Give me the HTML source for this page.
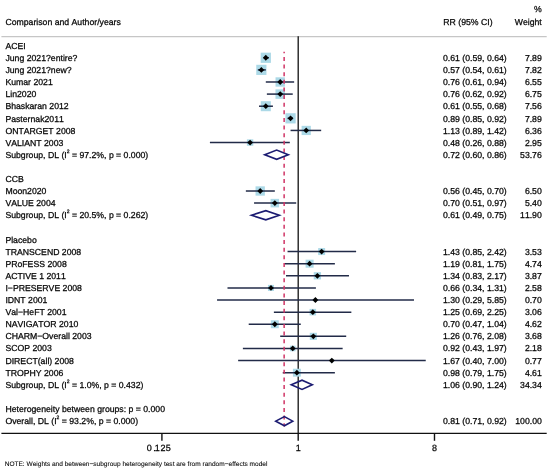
<!DOCTYPE html>
<html><head><meta charset="utf-8"><style>
html,body{margin:0;padding:0;background:#fff;}
body{width:550px;height:473px;overflow:hidden;position:relative;}
svg{position:absolute;left:0;top:0;will-change:transform;}
text{text-rendering:geometricPrecision;font-kerning:none;stroke:#080808;stroke-width:0.26px;font-family:"Liberation Sans",sans-serif;font-size:8.7px;fill:#080808;}
.sup{font-size:5px;}
.note{font-size:6.55px;stroke-width:0.08px;}
.tk{font-size:9px;}
</style></head><body>
<svg width="550" height="473" viewBox="0 0 550 473">

<line x1="1.4" y1="36.6" x2="546.7" y2="36.6" stroke="#c6c6c6" stroke-width="1.2"/>
<text x="5.4" y="24.7">Comparison and Author/years</text>
<text x="443.3" y="24.5">RR (95% CI)</text>
<text x="541.8" y="24.5" text-anchor="end">Weight</text>
<text x="541.8" y="12.0" text-anchor="end">%</text>
<line x1="298.2" y1="36.2" x2="298.2" y2="433.4" stroke="#111" stroke-width="1.3"/>
<line x1="1.4" y1="433.4" x2="546.7" y2="433.4" stroke="#111" stroke-width="1.4"/>
<line x1="161.91" y1="433.4" x2="161.91" y2="440.8" stroke="#111" stroke-width="1.4"/>
<text class="tk" x="146.7 153.3 154.8 160.4 165.7" y="450.8">0.125</text>
<line x1="298.20" y1="433.4" x2="298.20" y2="440.8" stroke="#111" stroke-width="1.4"/>
<text class="tk" x="298.20" y="450.8" text-anchor="middle">1</text>
<line x1="434.49" y1="433.4" x2="434.49" y2="440.8" stroke="#111" stroke-width="1.4"/>
<text class="tk" x="434.49" y="450.8" text-anchor="middle">8</text>
<text class="note" x="4.7" y="465.9">NOTE: Weights and between−subgroup heterogeneity test are from random−effects model</text>
<text x="5.4" y="48.90">ACEI</text>
<text x="5.4" y="61.00">Jung 2021?entire?</text>
<rect x="260.69" y="52.65" width="10.23" height="10.23" fill="#acd9e7"/>
<line x1="263.62" y1="57.76" x2="268.95" y2="57.76" stroke="#222b48" stroke-width="1.5"/>
<polygon points="262.90,57.76 265.80,54.86 268.70,57.76 265.80,60.66" fill="#000"/>
<text x="443.0" y="61.00">0.61 (0.59, 0.64)</text>
<text x="541.8" y="61.00" text-anchor="end">7.89</text>
<text x="5.4" y="73.10">Jung 2021?new?</text>
<rect x="256.26" y="64.78" width="10.19" height="10.19" fill="#acd9e7"/>
<line x1="257.81" y1="69.88" x2="265.80" y2="69.88" stroke="#222b48" stroke-width="1.5"/>
<polygon points="258.46,69.88 261.36,66.98 264.26,69.88 261.36,72.78" fill="#000"/>
<text x="443.0" y="73.10">0.57 (0.54, 0.61)</text>
<text x="541.8" y="73.10" text-anchor="end">7.82</text>
<text x="5.4" y="85.20">Kumar 2021</text>
<rect x="275.53" y="77.31" width="9.36" height="9.36" fill="#acd9e7"/>
<line x1="265.80" y1="81.99" x2="294.14" y2="81.99" stroke="#222b48" stroke-width="1.5"/>
<polygon points="277.31,81.99 280.21,79.09 283.11,81.99 280.21,84.89" fill="#000"/>
<text x="443.0" y="85.20">0.76 (0.61, 0.94)</text>
<text x="541.8" y="85.20" text-anchor="end">6.55</text>
<text x="5.4" y="97.30">Lin2020</text>
<rect x="275.47" y="89.36" width="9.49" height="9.49" fill="#acd9e7"/>
<line x1="266.87" y1="94.10" x2="292.74" y2="94.10" stroke="#222b48" stroke-width="1.5"/>
<polygon points="277.31,94.10 280.21,91.20 283.11,94.10 280.21,97.00" fill="#000"/>
<text x="443.0" y="97.30">0.76 (0.62, 0.92)</text>
<text x="541.8" y="97.30" text-anchor="end">6.75</text>
<text x="5.4" y="109.40">Bhaskaran 2012</text>
<rect x="260.79" y="101.20" width="10.02" height="10.02" fill="#acd9e7"/>
<line x1="259.02" y1="106.22" x2="272.92" y2="106.22" stroke="#222b48" stroke-width="1.5"/>
<polygon points="262.90,106.22 265.80,103.31 268.70,106.22 265.80,109.12" fill="#000"/>
<text x="443.0" y="109.40">0.61 (0.55, 0.68)</text>
<text x="541.8" y="109.40" text-anchor="end">7.56</text>
<text x="5.4" y="121.50">Pasternak2011</text>
<rect x="285.45" y="113.21" width="10.23" height="10.23" fill="#acd9e7"/>
<line x1="287.55" y1="118.33" x2="292.74" y2="118.33" stroke="#222b48" stroke-width="1.5"/>
<polygon points="287.66,118.33 290.56,115.43 293.46,118.33 290.56,121.23" fill="#000"/>
<text x="443.0" y="121.50">0.89 (0.85, 0.92)</text>
<text x="541.8" y="121.50" text-anchor="end">7.89</text>
<text x="5.4" y="133.60">ONTARGET 2008</text>
<rect x="301.60" y="125.83" width="9.23" height="9.23" fill="#acd9e7"/>
<line x1="290.56" y1="130.44" x2="321.18" y2="130.44" stroke="#222b48" stroke-width="1.5"/>
<polygon points="303.31,130.44 306.21,127.54 309.11,130.44 306.21,133.34" fill="#000"/>
<text x="443.0" y="133.60">1.13 (0.89, 1.42)</text>
<text x="541.8" y="133.60" text-anchor="end">6.36</text>
<text x="5.4" y="145.70">VALIANT 2003</text>
<rect x="246.89" y="139.35" width="6.41" height="6.41" fill="#acd9e7"/>
<line x1="209.91" y1="142.55" x2="289.82" y2="142.55" stroke="#222b48" stroke-width="1.5"/>
<polygon points="247.19,142.55 250.09,139.65 252.99,142.55 250.09,145.45" fill="#000"/>
<text x="443.0" y="145.70">0.48 (0.26, 0.88)</text>
<text x="541.8" y="145.70" text-anchor="end">2.95</text>
<text x="5.4" y="157.80">Subgroup, DL (I<tspan class='sup' dy='-5'>2</tspan><tspan dy='5'> = 97.2%, p = 0.000)</tspan></text>
<text x="443.0" y="157.80">0.72 (0.60, 0.86)</text>
<text x="541.8" y="157.80" text-anchor="end">53.76</text>
<text x="5.4" y="182.00">CCB</text>
<text x="5.4" y="194.10">Moon2020</text>
<rect x="255.54" y="186.34" width="9.32" height="9.32" fill="#acd9e7"/>
<line x1="245.86" y1="191.01" x2="274.82" y2="191.01" stroke="#222b48" stroke-width="1.5"/>
<polygon points="257.30,191.01 260.20,188.11 263.10,191.01 260.20,193.91" fill="#000"/>
<text x="443.0" y="194.10">0.56 (0.45, 0.70)</text>
<text x="541.8" y="194.10" text-anchor="end">6.50</text>
<text x="5.4" y="206.20">VALUE 2004</text>
<rect x="270.56" y="198.85" width="8.53" height="8.53" fill="#acd9e7"/>
<line x1="254.07" y1="203.12" x2="296.20" y2="203.12" stroke="#222b48" stroke-width="1.5"/>
<polygon points="271.92,203.12 274.82,200.22 277.72,203.12 274.82,206.02" fill="#000"/>
<text x="443.0" y="206.20">0.70 (0.51, 0.97)</text>
<text x="541.8" y="206.20" text-anchor="end">5.40</text>
<text x="5.4" y="218.30">Subgroup, DL (I<tspan class='sup' dy='-5'>2</tspan><tspan dy='5'> = 20.5%, p = 0.262)</tspan></text>
<text x="443.0" y="218.30">0.61 (0.49, 0.75)</text>
<text x="541.8" y="218.30" text-anchor="end">11.90</text>
<text x="5.4" y="242.50">Placebo</text>
<text x="5.4" y="254.60">TRANSCEND 2008</text>
<rect x="318.15" y="248.08" width="6.98" height="6.98" fill="#acd9e7"/>
<line x1="287.55" y1="251.57" x2="356.12" y2="251.57" stroke="#222b48" stroke-width="1.5"/>
<polygon points="318.74,251.57 321.64,248.67 324.54,251.57 321.64,254.47" fill="#000"/>
<text x="443.0" y="254.60">1.43 (0.85, 2.42)</text>
<text x="541.8" y="254.60" text-anchor="end">3.53</text>
<text x="5.4" y="266.70">PRoFESS 2008</text>
<rect x="305.59" y="259.67" width="8.02" height="8.02" fill="#acd9e7"/>
<line x1="284.39" y1="263.68" x2="334.88" y2="263.68" stroke="#222b48" stroke-width="1.5"/>
<polygon points="306.70,263.68 309.60,260.78 312.50,263.68 309.60,266.58" fill="#000"/>
<text x="443.0" y="266.70">1.19 (0.81, 1.75)</text>
<text x="541.8" y="266.70" text-anchor="end">4.74</text>
<text x="5.4" y="278.80">ACTIVE 1 2011</text>
<rect x="313.74" y="272.15" width="7.29" height="7.29" fill="#acd9e7"/>
<line x1="285.99" y1="275.80" x2="348.98" y2="275.80" stroke="#222b48" stroke-width="1.5"/>
<polygon points="314.48,275.80 317.38,272.90 320.28,275.80 317.38,278.70" fill="#000"/>
<text x="443.0" y="278.80">1.34 (0.83, 2.17)</text>
<text x="541.8" y="278.80" text-anchor="end">3.87</text>
<text x="5.4" y="290.90">I−PRESERVE 2008</text>
<rect x="267.96" y="284.90" width="6.02" height="6.02" fill="#acd9e7"/>
<line x1="227.49" y1="287.91" x2="315.90" y2="287.91" stroke="#222b48" stroke-width="1.5"/>
<polygon points="268.07,287.91 270.97,285.01 273.87,287.91 270.97,290.81" fill="#000"/>
<text x="443.0" y="290.90">0.66 (0.34, 1.31)</text>
<text x="541.8" y="290.90" text-anchor="end">2.58</text>
<text x="5.4" y="303.00">IDNT 2001</text>
<rect x="313.73" y="298.36" width="3.33" height="3.33" fill="#acd9e7"/>
<line x1="217.07" y1="300.02" x2="413.98" y2="300.02" stroke="#222b48" stroke-width="1.5"/>
<polygon points="312.50,300.02 315.40,297.12 318.30,300.02 315.40,302.92" fill="#000"/>
<text x="443.0" y="303.00">1.30 (0.29, 5.85)</text>
<text x="541.8" y="303.00" text-anchor="end">0.70</text>
<text x="5.4" y="315.10">Val−HeFT 2001</text>
<rect x="309.56" y="308.87" width="6.52" height="6.52" fill="#acd9e7"/>
<line x1="273.88" y1="312.14" x2="351.35" y2="312.14" stroke="#222b48" stroke-width="1.5"/>
<polygon points="309.93,312.14 312.83,309.24 315.73,312.14 312.83,315.04" fill="#000"/>
<text x="443.0" y="315.10">1.25 (0.69, 2.25)</text>
<text x="541.8" y="315.10" text-anchor="end">3.06</text>
<text x="5.4" y="327.20">NAVIGATOR 2010</text>
<rect x="270.86" y="320.29" width="7.92" height="7.92" fill="#acd9e7"/>
<line x1="248.71" y1="324.25" x2="300.77" y2="324.25" stroke="#222b48" stroke-width="1.5"/>
<polygon points="271.92,324.25 274.82,321.35 277.72,324.25 274.82,327.15" fill="#000"/>
<text x="443.0" y="327.20">0.70 (0.47, 1.04)</text>
<text x="541.8" y="327.20" text-anchor="end">4.62</text>
<text x="5.4" y="339.30">CHARM−Overall 2003</text>
<rect x="309.79" y="332.80" width="7.11" height="7.11" fill="#acd9e7"/>
<line x1="280.21" y1="336.36" x2="346.20" y2="336.36" stroke="#222b48" stroke-width="1.5"/>
<polygon points="310.45,336.36 313.35,333.46 316.25,336.36 313.35,339.26" fill="#000"/>
<text x="443.0" y="339.30">1.26 (0.76, 2.08)</text>
<text x="541.8" y="339.30" text-anchor="end">3.68</text>
<text x="5.4" y="351.40">SCOP 2003</text>
<rect x="289.95" y="345.69" width="5.57" height="5.57" fill="#acd9e7"/>
<line x1="242.88" y1="348.47" x2="342.64" y2="348.47" stroke="#222b48" stroke-width="1.5"/>
<polygon points="289.84,348.47 292.74,345.57 295.64,348.47 292.74,351.37" fill="#000"/>
<text x="443.0" y="351.40">0.92 (0.43, 1.97)</text>
<text x="541.8" y="351.40" text-anchor="end">2.18</text>
<text x="5.4" y="363.50">DIRECT(all) 2008</text>
<rect x="330.08" y="358.85" width="3.47" height="3.47" fill="#acd9e7"/>
<line x1="238.14" y1="360.59" x2="425.74" y2="360.59" stroke="#222b48" stroke-width="1.5"/>
<polygon points="328.91,360.59 331.81,357.69 334.71,360.59 331.81,363.49" fill="#000"/>
<text x="443.0" y="363.50">1.67 (0.40, 7.00)</text>
<text x="541.8" y="363.50" text-anchor="end">0.77</text>
<text x="5.4" y="375.60">TROPHY 2006</text>
<rect x="292.92" y="368.74" width="7.91" height="7.91" fill="#acd9e7"/>
<line x1="282.75" y1="372.70" x2="334.88" y2="372.70" stroke="#222b48" stroke-width="1.5"/>
<polygon points="293.98,372.70 296.88,369.80 299.78,372.70 296.88,375.60" fill="#000"/>
<text x="443.0" y="375.60">0.98 (0.79, 1.75)</text>
<text x="541.8" y="375.60" text-anchor="end">4.61</text>
<text x="5.4" y="387.70">Subgroup, DL (I<tspan class='sup' dy='-5'>2</tspan><tspan dy='5'> = 1.0%, p = 0.432)</tspan></text>
<text x="443.0" y="387.70">1.06 (0.90, 1.24)</text>
<text x="541.8" y="387.70" text-anchor="end">34.34</text>
<text x="5.4" y="411.90">Heterogeneity between groups: p = 0.000</text>
<text x="5.4" y="424.00">Overall, DL (I<tspan class='sup' dy='-5'>2</tspan><tspan dy='5'> = 93.2%, p = 0.000)</tspan></text>
<text x="443.0" y="424.00">0.81 (0.71, 0.92)</text>
<text x="541.8" y="424.00" text-anchor="end">100.00</text>
<line x1="284.14" y1="51.8" x2="284.14" y2="426.5" stroke="#d03466" stroke-width="1.5" stroke-dasharray="4.0 3.63" stroke-dashoffset="2.5"/>
<polygon points="264.72,154.67 276.67,150.07 288.31,154.67 276.67,159.27" fill="none" stroke="#1c1c72" stroke-width="1.6"/>
<polygon points="251.45,215.23 265.80,210.63 279.34,215.23 265.80,219.83" fill="none" stroke="#1c1c72" stroke-width="1.6"/>
<polygon points="291.29,384.81 302.02,380.21 312.30,384.81 302.02,389.41" fill="none" stroke="#1c1c72" stroke-width="1.6"/>
<polygon points="275.75,421.15 284.39,416.55 292.74,421.15 284.39,425.75" fill="none" stroke="#1c1c72" stroke-width="1.6"/>
</svg></body></html>
